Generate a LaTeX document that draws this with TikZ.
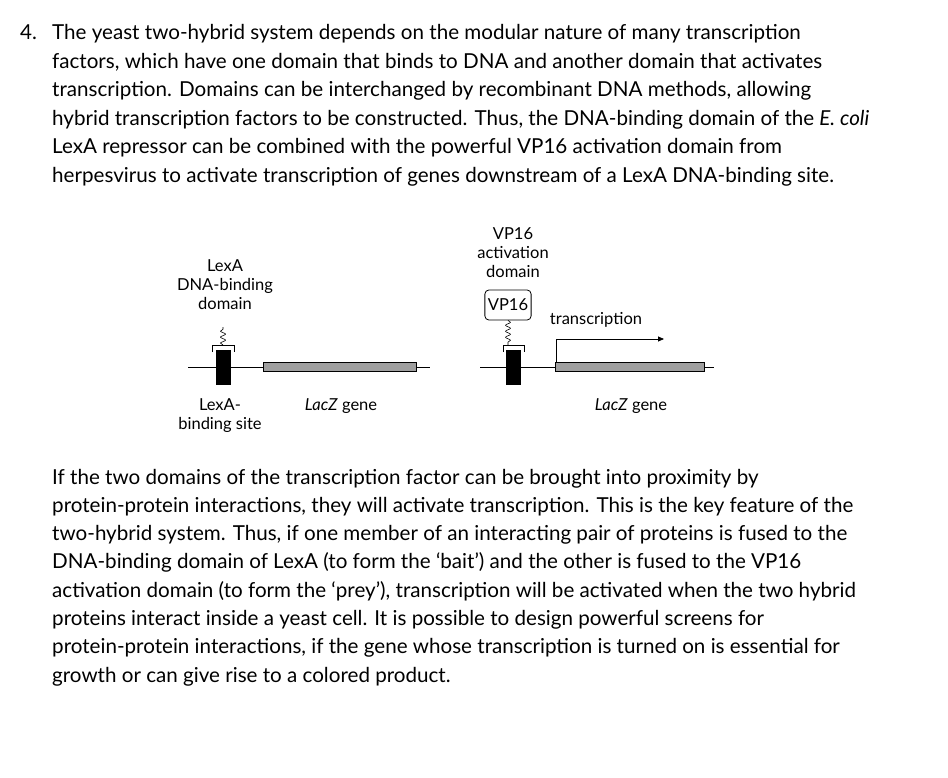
\documentclass[tikz,border=0pt]{standalone}
\usepackage{fontspec}
\setmainfont{Lato}
\usetikzlibrary{decorations.pathmorphing,arrows.meta}
\begin{document}
\begin{tikzpicture}[x=1pt,y=-1pt,
  ln/.style={anchor=base west,inner sep=0pt,font=\fontsize{20.6}{24}\selectfont},
  lb/.style={align=center,inner sep=0pt,font=\fontsize{16.5}{19}\selectfont},
  wig/.style={decorate,decoration={snake,amplitude=2.5pt,segment length=6pt}},
  gene/.style={draw,fill=gray!75,line width=0.8pt},
  site/.style={fill=black}]
\useasboundingbox (0,0) rectangle (948,778);
\node[ln] (n4) at (20,40) {4.};
\foreach \t [count=\i] in {
 {The yeast two-hybrid system depends on the modular nature of many transcription},
 {factors, which have one domain that binds to DNA and another domain that activates},
 {transcription. Domains can be interchanged by recombinant DNA methods, allowing},
 {hybrid transcription factors to be constructed. Thus, the DNA-binding domain of the \textit{E. coli}},
 {LexA repressor can be combined with the powerful VP16 activation domain from},
 {herpesvirus to activate transcription of genes downstream of a LexA DNA-binding site.}}
 \node[ln] (p\i) at (52,{40+28.5*(\i-1)}) {\t};
\foreach \t [count=\i] in {
 {If the two domains of the transcription factor can be brought into proximity by},
 {protein-protein interactions, they will activate transcription. This is the key feature of the},
 {two-hybrid system. Thus, if one member of an interacting pair of proteins is fused to the},
 {DNA-binding domain of LexA (to form the ‘bait’) and the other is fused to the VP16},
 {activation domain (to form the ‘prey’), transcription will be activated when the two hybrid},
 {proteins interact inside a yeast cell. It is possible to design powerful screens for},
 {protein-protein interactions, if the gene whose transcription is turned on is essential for},
 {growth or can give rise to a colored product.}}
 \node[ln] (q\i) at (52,{484+28.3*(\i-1)}) {\t};
% left diagram
\coordinate (l1) at (188,367); \coordinate (l2) at (430,367);
\draw[line width=0.8pt] (l1) -- (l2);
\node[site,minimum width=15pt,minimum height=35pt,inner sep=0pt] (lbox) at (223,367.5) {};
\node[gene,minimum width=153pt,minimum height=9pt,inner sep=0pt] (lgene) at (339.5,367) {};
\draw[line width=0.8pt] (212,352) |- (234,345) -- (234,352);
\coordinate (lw) at (223,345);
\coordinate (lw2) at (223,327);
\draw[wig,line width=0.6pt] (lw) -- (lw2);
\node[lb] (ldom) at (225,285) {LexA\\DNA-binding\\domain};
\node[lb] (lsite) at (220,416) {LexA-\\binding site};
\node[lb] (llac) at (341,406) {\textit{LacZ} gene};
% right diagram
\coordinate (r1) at (480,367); \coordinate (r2) at (714,367);
\draw[line width=0.8pt] (r1) -- (r2);
\node[site,minimum width=15pt,minimum height=35pt,inner sep=0pt] (rbox) at (513.5,367.5) {};
\node[gene,minimum width=149pt,minimum height=9pt,inner sep=0pt] (rgene) at (629.5,367) {};
\draw[line width=0.8pt] (503,352) |- (524,345) -- (524,352);
\node[draw,rounded corners=4pt,line width=0.8pt,lb,inner sep=3pt,minimum height=30pt] (vp) at (508,305) {VP16};
\draw[wig,line width=0.6pt] (vp.south) -- (508,345);
\coordinate (ts) at (556,362);
\coordinate (te) at (664,339);
\draw[line width=0.8pt,-{Triangle[length=6pt,width=5pt]}] (ts) |- (te);
\node[lb] (tr) at (596,320) {transcription};
\node[lb] (vdom) at (513,253) {VP16\\activation\\domain};
\node[lb] (rlac) at (631,406) {\textit{LacZ} gene};
\end{tikzpicture}
\end{document}
